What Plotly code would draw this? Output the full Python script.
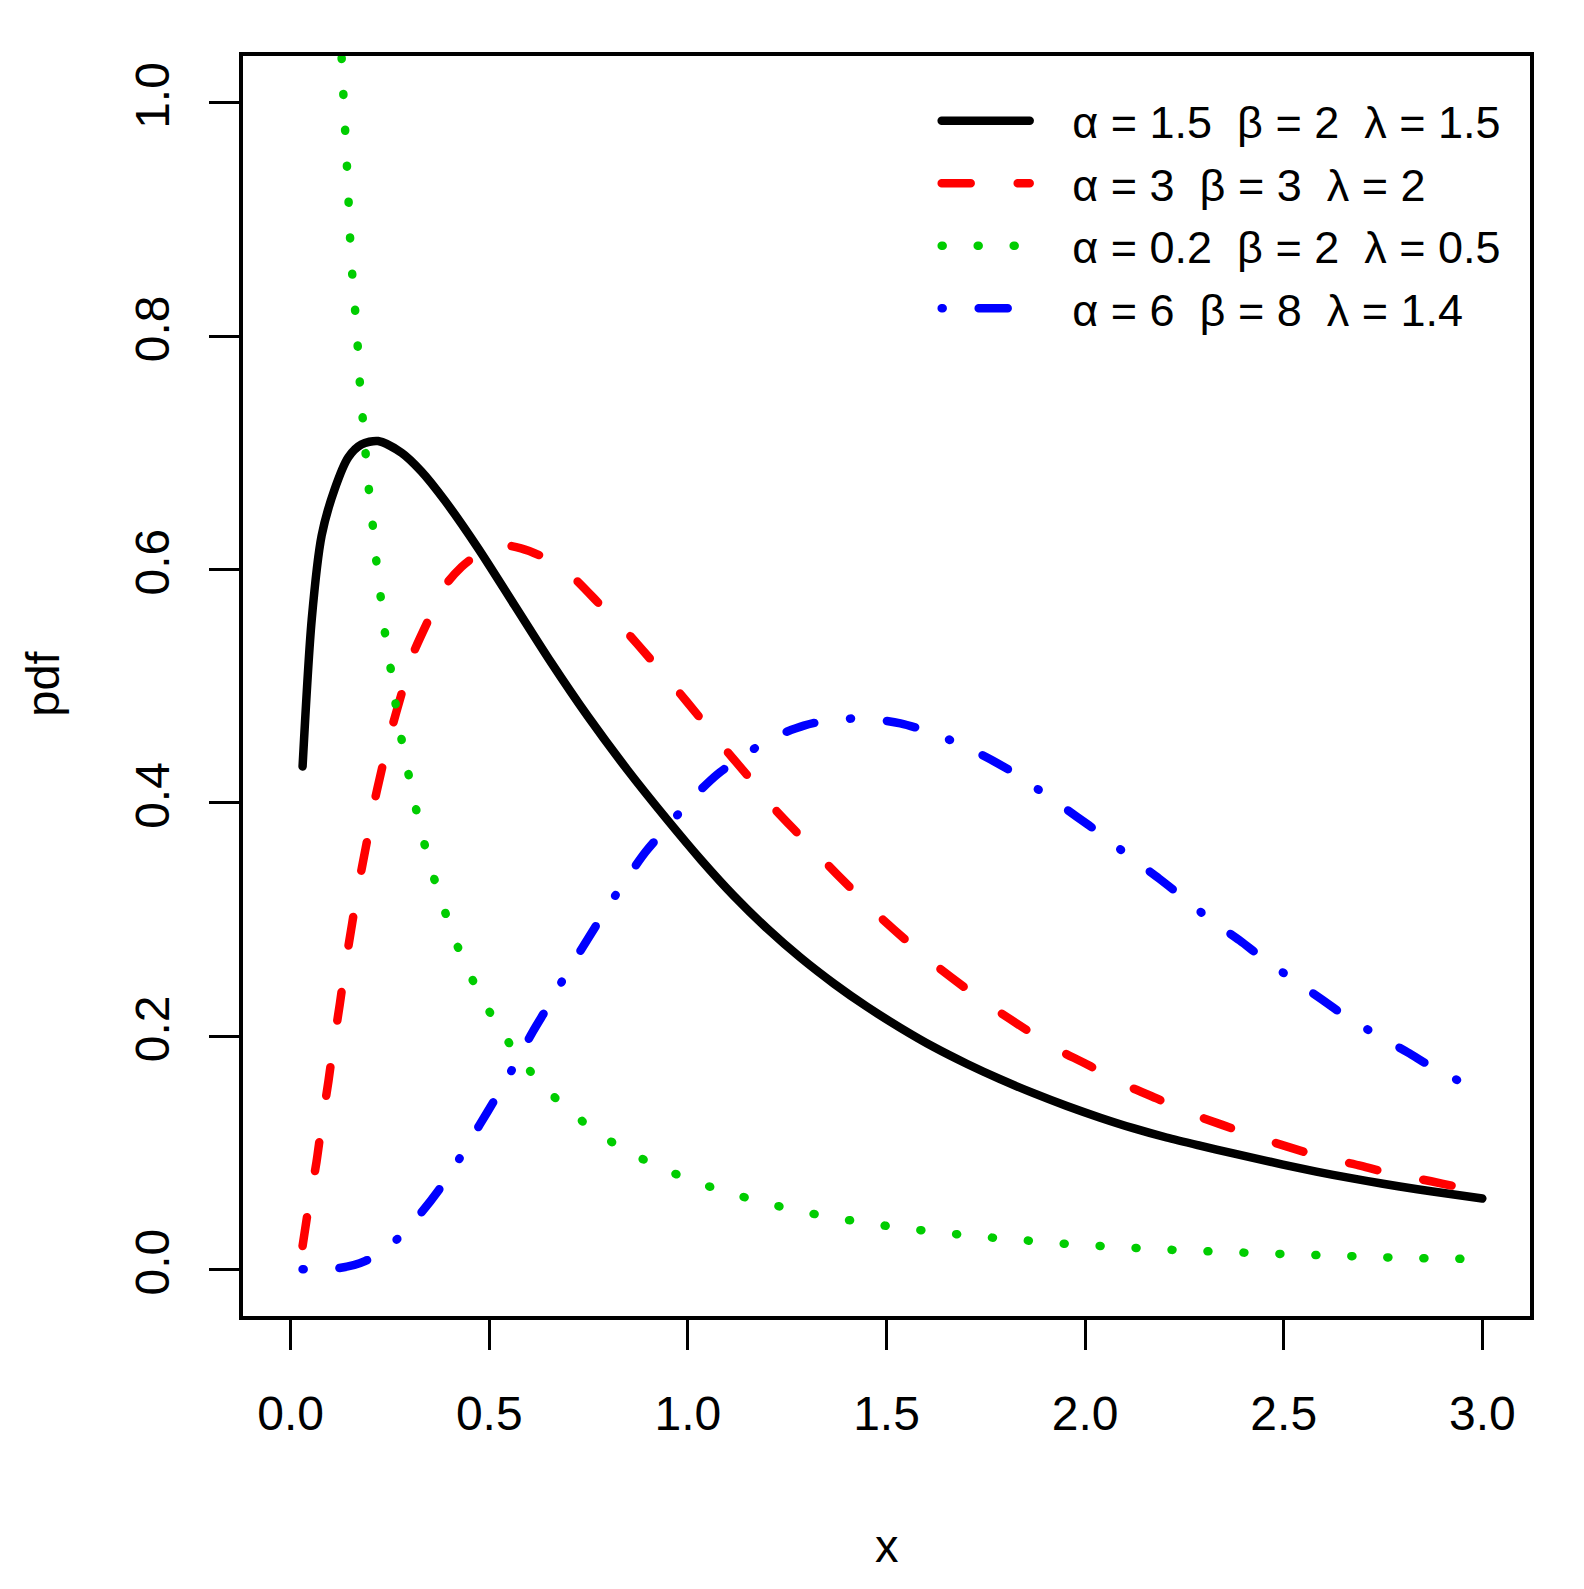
import plotly.graph_objects as go

# curva 1: alpha=1.5 beta=2 lambda=1.5
x_preto = [0.030, 0.053, 0.078, 0.111, 0.145, 0.178, 0.220, 0.279, 0.329, 0.388,
           0.472, 0.564, 0.656, 0.748, 0.848, 0.949, 1.033, 1.116, 1.200, 1.284,
           1.368, 1.451, 1.535, 1.619, 1.703, 1.786, 1.870, 1.954, 2.038, 2.121,
           2.205, 2.289, 2.373, 2.456, 2.540, 2.624, 2.708, 2.792, 2.875, 3.000]
y_preto = [0.431, 0.557, 0.629, 0.669, 0.696, 0.707, 0.710, 0.700, 0.684, 0.659,
           0.618, 0.569, 0.520, 0.474, 0.428, 0.385, 0.351, 0.320, 0.292, 0.267,
           0.2448, 0.2250, 0.207, 0.1905, 0.176, 0.163, 0.151, 0.140, 0.130, 0.121,
           0.113, 0.106, 0.0993, 0.093, 0.0867, 0.081, 0.0758, 0.071, 0.0667, 0.0607]

# curva 2: alpha=3 beta=3 lambda=2
x_vermelho = [0.030, 0.044, 0.065, 0.076, 0.095, 0.106, 0.124, 0.136, 0.155, 0.168,
              0.191, 0.206, 0.231, 0.250, 0.283, 0.304, 0.353, 0.389, 0.430, 0.472,
              0.522, 0.580, 0.639, 0.702, 0.781, 0.836, 0.911, 0.962, 1.037, 1.081,
              1.158, 1.204, 1.284, 1.334, 1.418, 1.468, 1.556, 1.611, 1.703, 1.760,
              1.858, 1.916, 2.014, 2.075, 2.180, 2.243, 2.347, 2.413, 2.519, 2.586,
              2.695, 2.762, 2.871, 2.938, 3.000]
y_vermelho = [0.020, 0.051, 0.092, 0.119, 0.161, 0.188, 0.228, 0.257, 0.297, 0.324,
              0.365, 0.393, 0.431, 0.458, 0.498, 0.524, 0.561, 0.586, 0.602, 0.613,
              0.621, 0.618, 0.610, 0.596, 0.569, 0.550, 0.521, 0.501, 0.470, 0.451,
              0.420, 0.400, 0.371, 0.353, 0.324, 0.307, 0.280, 0.264, 0.240, 0.226,
              0.204, 0.191, 0.174, 0.162, 0.1465, 0.1365, 0.1236, 0.1156, 0.1041, 0.0973,
              0.0887, 0.0827, 0.0755, 0.0707, 0.067]

# curva 3: alpha=0.2 beta=2 lambda=0.5 (sai pelo topo perto de zero)
x_verde = [0.120, 0.130, 0.135, 0.140, 0.145, 0.149, 0.155, 0.163, 0.170, 0.176,
           0.185, 0.193, 0.204, 0.214, 0.226, 0.238, 0.254, 0.268, 0.286, 0.307,
           0.329, 0.355, 0.386, 0.420, 0.461, 0.507, 0.560, 0.620, 0.688, 0.761,
           0.838, 0.920, 1.004, 1.090, 1.177, 1.264, 1.352, 1.441, 1.530, 1.619,
           1.709, 1.796, 1.886, 1.976, 2.065, 2.155, 2.244, 2.333, 2.423, 2.513,
           2.602, 2.692, 2.781, 2.871, 2.959, 3.000]
y_verde = [1.100, 1.026, 0.991, 0.957, 0.922, 0.888, 0.853, 0.819, 0.785, 0.750,
           0.716, 0.681, 0.647, 0.612, 0.578, 0.544, 0.510, 0.476, 0.442, 0.408,
           0.375, 0.342, 0.309, 0.277, 0.246, 0.217, 0.189, 0.163, 0.140, 0.120,
           0.103, 0.089, 0.077, 0.067, 0.0586, 0.0512, 0.0452, 0.0403, 0.0358, 0.0323,
           0.0289, 0.0263, 0.0238, 0.0212, 0.0195, 0.0178, 0.0163, 0.0152, 0.0140, 0.0129,
           0.0120, 0.0110, 0.0100, 0.0094, 0.0089, 0.0086]

# curva 4: alpha=6 beta=8 lambda=1.4
x_azul = [0.030, 0.120, 0.187, 0.262, 0.327, 0.373, 0.425, 0.476, 0.513, 0.562,
          0.610, 0.647, 0.695, 0.746, 0.786, 0.840, 0.894, 0.945, 1.006, 1.073,
          1.131, 1.209, 1.292, 1.361, 1.448, 1.535, 1.604, 1.686, 1.768, 1.828,
          1.904, 1.979, 2.040, 2.111, 2.186, 2.242, 2.314, 2.389, 2.446, 2.521,
          2.597, 2.656, 2.734, 2.812, 2.875, 2.955, 3.000]
y_azul = [0.000, 0.001, 0.007, 0.024, 0.048, 0.068, 0.095, 0.124, 0.145, 0.174,
          0.204, 0.225, 0.254, 0.282, 0.304, 0.332, 0.358, 0.378, 0.402, 0.424,
          0.438, 0.455, 0.466, 0.471, 0.472, 0.468, 0.461, 0.450, 0.436, 0.424,
          0.406, 0.388, 0.373, 0.354, 0.335, 0.320, 0.300, 0.282, 0.267, 0.249,
          0.231, 0.217, 0.201, 0.186, 0.173, 0.159, 0.150]

rotulos = [
    "α = 1.5  β = 2  λ = 1.5",
    "α = 3  β = 3  λ = 2",
    "α = 0.2  β = 2  λ = 0.5",
    "α = 6  β = 8  λ = 1.4",
]

x_ticks = [0.0, 0.5, 1.0, 1.5, 2.0, 2.5, 3.0]
y_ticks = [0.0, 0.2, 0.4, 0.6, 0.8, 1.0]

FONTE = "Liberation Sans, Arial, sans-serif"
LARG = 8.5

series = [
    (x_preto, y_preto, "#000000", "solid"),
    (x_vermelho, y_vermelho, "#FF0000", "29px,47px"),
    (x_verde, y_verde, "#00CD00", "1px,35px"),
    (x_azul, y_azul, "#0000FF", "1px,36px,29px,36px"),
]

fig = go.Figure()
for i, (xs, ys, cor, traco) in enumerate(series):
    nome = "\u00a0\u00a0\u00a0" + rotulos[i].replace("  ", "\u00a0\u00a0")
    fig.add_trace(go.Scatter(
        x=xs, y=ys, mode="lines", name=nome, legendgroup=str(i),
        line=dict(color=cor, width=LARG, dash=traco, shape="spline", smoothing=0.8),
    ))

eixo = dict(
    showgrid=False, zeroline=False, showline=True, mirror=True,
    linecolor="black", linewidth=4, ticks="outside", ticklen=30,
    tickwidth=3, tickcolor="black", tickfont=dict(size=48, color="black"),
)

fig.update_layout(
    width=1584, height=1589,
    margin=dict(l=235, r=62, t=48, b=281),
    paper_bgcolor="white", plot_bgcolor="white",
    font=dict(family=FONTE, color="black"),
    showlegend=True,
    legend=dict(
        x=0.539, y=0.977, xanchor="left", yanchor="top",
        font=dict(size=45), itemwidth=88, tracegroupgap=1,
        bgcolor="rgba(0,0,0,0)", borderwidth=0,
    ),
    xaxis=dict(range=[-0.12, 3.12], tickvals=x_ticks, tickformat=".1f",
               ticklabelstandoff=22, **eixo),
    yaxis=dict(range=[-0.04, 1.04], tickvals=y_ticks, tickformat=".1f",
               tickangle=-90, ticklabelstandoff=21, **eixo),
    annotations=[
        dict(text="x", xref="paper", yref="paper", x=0.5, y=-0.182,
             showarrow=False, font=dict(size=47), xanchor="center", yanchor="middle"),
        dict(text="pdf", xref="paper", yref="paper", x=-0.156, y=0.502,
             showarrow=False, font=dict(size=47), textangle=-90,
             xanchor="center", yanchor="middle"),
    ],
)

arredonda = ("var s=document.createElement('style');"
             "s.innerHTML='.js-line{stroke-linecap:round;}';"
             "document.head.appendChild(s);")
fig.write_html("out.html", post_script=arredonda)
